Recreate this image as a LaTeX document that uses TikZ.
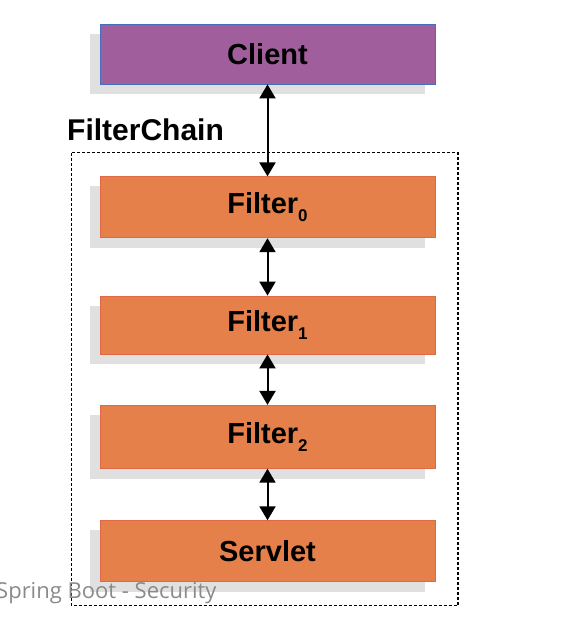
\documentclass[tikz,border=0pt]{standalone}
\usepackage{fontspec}
\setmainfont{Liberation Sans}
\newfontfamily\footfont{Open Sans}
\usetikzlibrary{arrows.meta,backgrounds}
\definecolor{clientfill}{RGB}{160,94,156}
\definecolor{clientdraw}{RGB}{70,110,190}
\definecolor{orangefill}{RGB}{229,128,75}
\definecolor{orangedraw}{RGB}{224,104,70}
\definecolor{shadowgray}{RGB}{224,224,224}
\definecolor{footgray}{RGB}{138,138,138}
\newcommand{\sub}[1]{\raisebox{-8pt}{\fontsize{17}{17}\selectfont #1}}
\tikzset{
  box/.style={rectangle, minimum width=335pt, inner sep=0pt, line width=0.8pt,
    font=\fontsize{29}{29}\selectfont\bfseries},
  clientbox/.style={box, fill=clientfill, draw=clientdraw},
  filterbox/.style={box, fill=orangefill, draw=orangedraw},
  link/.style={{Triangle[width=16pt,length=14pt]}-{Triangle[width=16pt,length=14pt]}, line width=2pt},
  chain/.style={draw, dashed, dash pattern=on 3pt off 2pt, line width=1.2pt},
}
\newcommand{\shadowof}[1]{\fill[shadowgray] ([shift={(-10,10)}]#1.south west) rectangle ([shift={(-10,10)}]#1.north east);}
\begin{document}
\begin{tikzpicture}[x=1pt,y=-1pt]
\useasboundingbox (0,0) rectangle (564,624);
\node[clientbox, minimum height=60pt] (client) at (267.5,54) {Client};
\node[filterbox, minimum height=61pt] (f0) at (267.5,207.3) {Filter\sub{0}};
\node[filterbox, minimum height=58pt] (f1) at (267.5,325) {Filter\sub{1}};
\node[filterbox, minimum height=63pt] (f2) at (267.5,436.8) {Filter\sub{2}};
\node[filterbox, minimum height=61pt] (servlet) at (267.5,551.2) {Servlet};
\begin{scope}[on background layer]
\shadowof{client}
\shadowof{f0}
\shadowof{f1}
\shadowof{f2}
\shadowof{servlet}
\end{scope}
\coordinate (chainNW) at (71.7,152.7);
\coordinate (chainSE) at (458,605.7);
\draw[chain] (chainNW) rectangle (chainSE);
\node[anchor=base west, inner sep=0pt, font=\fontsize{30}{30}\selectfont\bfseries] (chainlabel) at (67,140.7) {FilterChain};
\draw[link] (client.south) -- (f0.north);
\draw[link] (f0.south) -- (f1.north);
\draw[link] (f1.south) -- (f2.north);
\draw[link] (f2.south) -- (servlet.north);
\node[anchor=base west, inner sep=0pt, text=footgray, font=\footfont\fontsize{22}{22}\selectfont] (footer) at (-4,598) {Spring Boot - Security};
\end{tikzpicture}
\end{document}
